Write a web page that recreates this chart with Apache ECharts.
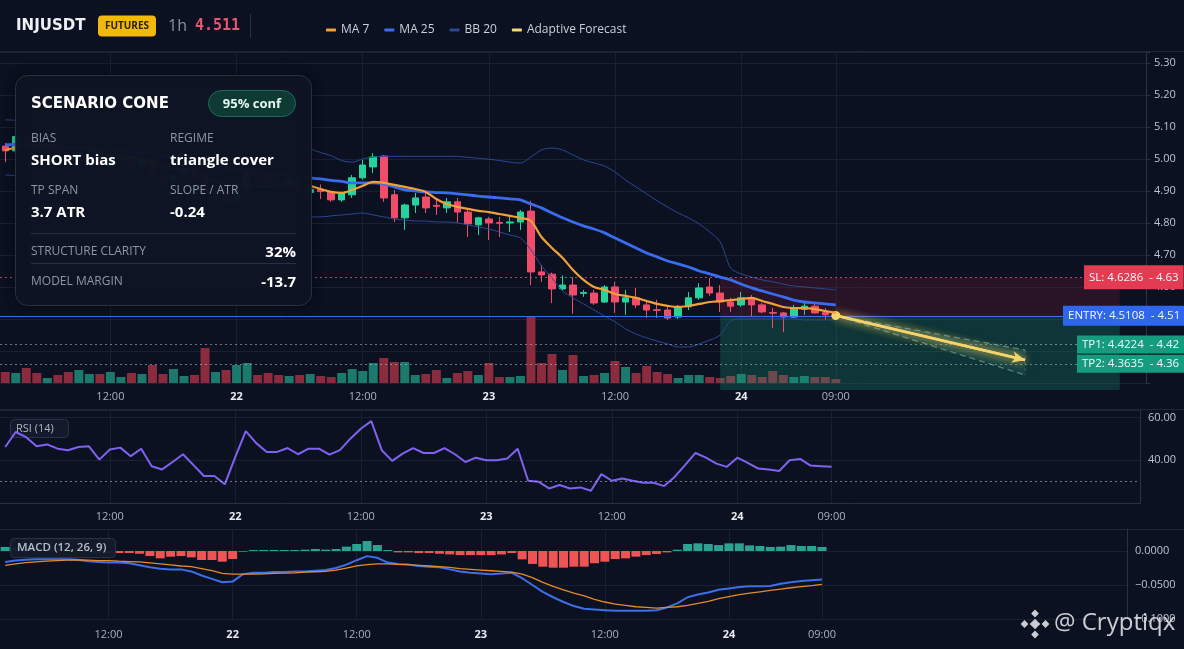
<!DOCTYPE html>
<html>
<head>
<meta charset="utf-8">
<script src="https://cdn.jsdelivr.net/npm/echarts@6/dist/echarts.min.js"></script>
<style>
html,body{margin:0;padding:0;background:#0b1120;overflow:hidden;}
#chart{width:1184px;height:649px;}
</style>
</head>
<body>
<div id="chart"></div>
<script>
// ---------------- axis categories (hourly slots) ----------------
const startDay = 21;
const startHour = 2;
const slotCount = 109;
const categories = [];
for (let k = 0; k < slotCount; k++) {
  const t = startHour + k;
  categories.push((startDay + Math.floor(t / 24)) + ' ' + String(t % 24).padStart(2, '0') + ':00');
}

// ---------------- price candles [open, close, low, high] ----------------
const candles = [
  [5.040,5.025,4.990,5.050],[5.025,5.070,5.020,5.080],[5.070,5.055,5.045,5.085],[5.055,5.030,5.020,5.060],
  [5.030,5.038,5.020,5.050],[5.038,5.020,5.010,5.045],[5.020,5.010,4.995,5.030],[5.010,5.022,5.000,5.030],
  [5.022,5.026,5.010,5.040],[5.026,4.975,4.965,5.030],[4.975,5.000,4.970,5.010],[5.000,5.008,4.990,5.020],
  [5.008,4.980,4.970,5.015],[4.980,5.000,4.975,5.010],[5.000,4.945,4.935,5.005],[4.945,4.930,4.920,4.955],
  [4.930,4.950,4.925,4.960],[4.950,4.970,4.945,4.980],[4.970,4.935,4.925,4.975],[4.935,4.895,4.880,4.940],
  [4.895,4.897,4.880,4.910],[4.897,4.865,4.850,4.905],[4.865,4.905,4.860,4.915],[4.905,4.965,4.900,4.975],
  [4.965,4.945,4.935,4.970],[4.945,4.925,4.915,4.950],[4.925,4.922,4.910,4.935],[4.922,4.935,4.915,4.945],
  [4.935,4.895,4.890,4.940],[4.895,4.905,4.885,4.915],[4.905,4.898,4.875,4.920],[4.897,4.872,4.866,4.900],
  [4.872,4.894,4.866,4.897],[4.888,4.941,4.878,4.950],[4.941,4.981,4.935,4.997],[4.975,5.006,4.956,5.018],
  [5.009,4.878,4.866,5.012],[4.888,4.816,4.803,4.903],[4.816,4.856,4.778,4.860],[4.856,4.878,4.831,4.894],
  [4.881,4.847,4.831,4.900],[4.855,4.852,4.825,4.872],[4.847,4.866,4.831,4.878],[4.866,4.834,4.800,4.878],
  [4.834,4.797,4.756,4.847],[4.794,4.816,4.762,4.819],[4.8125,4.800,4.747,4.819],[4.801,4.799,4.756,4.819],
  [4.800,4.803,4.772,4.819],[4.803,4.834,4.778,4.840],[4.837,4.647,4.606,4.869],[4.647,4.6375,4.616,4.669],
  [4.640,4.594,4.550,4.645],[4.594,4.606,4.590,4.636],[4.606,4.575,4.516,4.631],[4.580,4.583,4.569,4.591],
  [4.581,4.550,4.544,4.591],[4.553,4.600,4.550,4.606],[4.600,4.553,4.519,4.616],[4.553,4.566,4.513,4.591],
  [4.566,4.544,4.534,4.597],[4.544,4.528,4.503,4.560],[4.529,4.527,4.503,4.560],[4.528,4.503,4.497,4.538],
  [4.506,4.538,4.500,4.544],[4.538,4.566,4.528,4.584],[4.566,4.597,4.560,4.612],[4.600,4.581,4.572,4.628],
  [4.581,4.553,4.522,4.606],[4.553,4.540,4.522,4.566],[4.544,4.566,4.538,4.584],[4.566,4.544,4.506,4.575],
  [4.544,4.522,4.518,4.550],[4.520,4.518,4.472,4.534],[4.519,4.506,4.459,4.522],[4.506,4.534,4.503,4.544],
  [4.530,4.540,4.513,4.550],[4.540,4.519,4.516,4.550],[4.520,4.513,4.497,4.534],[4.513,4.511,4.505,4.520]
];
const volumes = [
  132,120,180,120,60,96,132,156,108,108, 132,72,120,108,216,108,168,84,96,420,
  132,156,216,240,96,120,96,84,96,108, 84,72,120,168,144,240,300,252,252,96,
  108,156,60,120,144,96,240,72,72,84, 792,240,348,156,336,84,96,120,264,192,
  120,204,132,108,60,96,96,72,60,84, 108,96,72,144,96,72,84,72,72,48
];
const ma7 = [
  5.028,5.035,5.040,5.040,5.040,5.038,5.035,5.035,5.029,5.017,
  5.013,5.009,5.003,5.002,4.991,4.977,4.969,4.969,4.959,4.946,
  4.932,4.921,4.917,4.919,4.915,4.914,4.917,4.923,4.922,4.916,
  4.906,4.897,4.894,4.903,4.916,4.928,4.925,4.919,4.9125,4.906,
  4.897,4.875,4.859,4.850,4.844,4.8375,4.834,4.828,4.822,4.816,
  4.806,4.756,4.722,4.691,4.653,4.622,4.600,4.591,4.578,4.572,
  4.566,4.556,4.547,4.541,4.5375,4.541,4.547,4.553,4.556,4.559,
  4.5625,4.566,4.556,4.547,4.5375,4.534,4.534,4.531,4.525,4.519
];
const ma25 = [
  5.044,5.045,5.045,5.044,5.043,5.041,5.039,5.037,5.035,5.032,
  5.029,5.026,5.022,5.019,5.014,5.009,5.004,4.999,4.993,4.986,
  4.979,4.972,4.966,4.962,4.958,4.954,4.950,4.947,4.944,4.941,
  4.9375,4.933,4.930,4.925,4.925,4.925,4.922,4.9125,4.903,4.900,
  4.897,4.895,4.894,4.891,4.8875,4.884,4.881,4.878,4.875,4.872,
  4.859,4.847,4.831,4.816,4.803,4.791,4.781,4.769,4.753,4.7375,
  4.722,4.706,4.694,4.681,4.672,4.6625,4.650,4.641,4.631,4.622,
  4.609,4.597,4.5875,4.578,4.569,4.559,4.553,4.550,4.547,4.544
];
const bbUpper = [
  5.122,5.121,5.120,5.118,5.115,5.112,5.108,5.104,5.100,5.098,
  5.096,5.094,5.092,5.090,5.088,5.087,5.085,5.083,5.080,5.078,
  5.076,5.075,5.070,5.065,5.060,5.055,5.050,5.045,5.038,5.031,
  5.020,5.010,4.995,4.990,5.000,5.006,5.008,5.008,5.008,5.008,
  5.008,5.008,5.008,5.008,5.005,5.002,4.999,4.995,4.990,4.987,
  5.006,5.028,5.034,5.028,5.0125,4.997,4.9875,4.978,4.959,4.934,
  4.9125,4.891,4.869,4.850,4.831,4.816,4.797,4.772,4.741,4.659,
  4.641,4.631,4.622,4.616,4.609,4.603,4.600,4.597,4.594,4.591
];
const bbLower = [
  4.950,4.948,4.946,4.944,4.942,4.940,4.937,4.934,4.930,4.925,
  4.920,4.915,4.910,4.905,4.898,4.890,4.882,4.875,4.866,4.856,
  4.846,4.836,4.830,4.828,4.826,4.824,4.823,4.822,4.820,4.819,
  4.819,4.822,4.825,4.828,4.831,4.825,4.819,4.8125,4.809,4.806,
  4.806,4.803,4.803,4.800,4.794,4.7875,4.781,4.772,4.7625,4.753,
  4.716,4.666,4.628,4.5875,4.566,4.547,4.528,4.509,4.491,4.469,
  4.453,4.441,4.431,4.422,4.4125,4.4125,4.422,4.434,4.450,4.494,
  4.500,4.500,4.500,4.500,4.500,4.500,4.497,4.497,4.497,4.497
];

// ---------------- RSI / MACD ----------------
const rsi = [
  46.2,53.2,50.8,46.5,47.4,45.4,44.7,46.2,46.5,40.3,
  45.0,45.9,41.9,45.4,37.2,35.7,39.2,42.8,37.7,32.6,
  32.6,28.8,41.6,53.6,48.0,43.9,43.9,45.7,42.8,45.4,
  45.4,42.6,44.7,50.1,54.7,58.3,44.7,39.7,43.1,45.7,
  43.4,43.4,45.7,42.8,39.2,41.2,40.0,40.0,40.8,45.4,
  30.4,29.9,26.8,28.4,26.8,27.3,25.7,33.5,30.4,31.5,
  30.4,29.5,29.5,27.9,32.2,37.7,43.4,41.2,38.4,36.9,
  41.2,38.8,36.1,35.7,35.0,40.0,40.6,37.5,37.2,36.9
];
const macdLine = [
  -0.016,-0.014,-0.013,-0.012,-0.012,-0.012,-0.012,-0.013,-0.015,-0.016,
  -0.017,-0.017,-0.018,-0.021,-0.024,-0.026,-0.027,-0.027,-0.030,-0.036,
  -0.041,-0.046,-0.045,-0.034,-0.032,-0.032,-0.031,-0.031,-0.030,-0.030,
  -0.029,-0.028,-0.025,-0.020,-0.0135,-0.0075,-0.010,-0.017,-0.019,-0.020,
  -0.022,-0.023,-0.024,-0.027,-0.030,-0.032,-0.033,-0.034,-0.033,-0.032,
  -0.040,-0.050,-0.060,-0.068,-0.075,-0.081,-0.085,-0.086,-0.087,-0.088,
  -0.088,-0.088,-0.088,-0.087,-0.083,-0.077,-0.068,-0.064,-0.061,-0.057,
  -0.055,-0.053,-0.052,-0.052,-0.0515,-0.048,-0.046,-0.044,-0.043,-0.042
];
const signalLine = [
  -0.021,-0.019,-0.017,-0.016,-0.015,-0.014,-0.0135,-0.013,-0.0135,-0.014,
  -0.0142,-0.015,-0.0155,-0.016,-0.0175,-0.019,-0.0205,-0.022,-0.023,-0.026,
  -0.029,-0.033,-0.034,-0.034,-0.034,-0.0335,-0.033,-0.0326,-0.032,-0.031,
  -0.0305,-0.030,-0.028,-0.025,-0.022,-0.020,-0.019,-0.019,-0.0196,-0.020,
  -0.021,-0.022,-0.023,-0.024,-0.026,-0.027,-0.028,-0.029,-0.030,-0.031,
  -0.034,-0.039,-0.046,-0.052,-0.057,-0.062,-0.066,-0.071,-0.075,-0.078,
  -0.080,-0.082,-0.083,-0.084,-0.083,-0.082,-0.080,-0.077,-0.074,-0.070,
  -0.067,-0.064,-0.062,-0.060,-0.058,-0.056,-0.054,-0.0525,-0.051,-0.049
];
const macdHist = [
  0.006,0.005,0.004,0.004,0.003,0.002,0.0015,0.0005,-0.0015,-0.002,
  -0.003,-0.003,-0.003,-0.004,-0.0074,-0.0108,-0.0083,-0.0074,-0.0093,-0.0132,
  -0.0132,-0.0157,-0.0118,-0.001,0.0015,0.0015,0.0015,0.0015,0.0015,0.002,
  0.003,0.002,0.003,0.0064,0.0103,0.0147,0.0088,0.0015,-0.002,-0.002,
  -0.003,-0.003,-0.004,-0.005,-0.006,-0.006,-0.006,-0.006,-0.005,-0.003,
  -0.0123,-0.019,-0.023,-0.0245,-0.0245,-0.023,-0.023,-0.018,-0.0157,-0.0118,
  -0.0108,-0.0083,-0.006,-0.0044,-0.002,0.002,0.0103,0.0113,0.0103,0.0088,
  0.0113,0.0113,0.0083,0.0074,0.0059,0.0064,0.0088,0.0074,0.0074,0.0059
];

// ---------------- trade plan / forecast ----------------
const levelNames = ['SL', 'ENTRY', 'TP1', 'TP2'];
const levelValues = [4.6286, 4.5108, 4.4224, 4.3635];
const forecastTimes = ['24 09:00', '25 03:00'];
const forecastValues = [4.5108, 4.372];
const coneUpper = [4.5108, 4.403];
const coneLower = [4.5108, 4.325];
const zoneTimes = ['23 22:00', '25 12:00'];
const slZone = [4.6286, 4.5108];
const tpZone = [4.5108, 4.278];

// ---------------- panel texts ----------------
const panelTitle = 'SCENARIO CONE';
const panelBadge = '95% conf';
const panelGrid = [['BIAS', 'SHORT bias'], ['REGIME', 'triangle cover'], ['TP SPAN', '3.7 ATR'], ['SLOPE / ATR', '-0.24']];
const panelRows = [['STRUCTURE CLARITY', '32%'], ['MODEL MARGIN', '-13.7']];

// ---------------- helpers ----------------
const lastIdx = candles.length - 1;
const catIdx = c => categories.indexOf(c);
function showTick(idx) {
  if (idx > lastIdx) return false;
  const hh = categories[idx].split(' ')[1];
  return hh === '00:00' || hh === '12:00' || idx === lastIdx;
}
function fmtTick(val) {
  const parts = val.split(' ');
  return parts[1] === '00:00' ? '{b|' + parts[0] + '}' : parts[1];
}
function isStep(v, s) { const r = v / s; return Math.abs(r - Math.round(r)) < 1e-6; }

const UP = '#26d39d', DOWN = '#ef4d6a';
const VUP = '#1c7a6c', VDOWN = '#8a2c3d';
const FONT = '"Open Sans", "Noto Sans", sans-serif';

function makeX(gi, lineShow, margin) {
  return {
    type: 'category', gridIndex: gi, data: categories, boundaryGap: true,
    axisLine: { show: lineShow, lineStyle: { color: '#283244' } },
    axisTick: { show: false },
    axisLabel: {
      interval: showTick, formatter: fmtTick, color: '#a9b2bf', fontSize: 11, fontFamily: FONT, margin: margin,
      rich: { b: { fontWeight: 'bold', color: '#e8ecf2', fontSize: 11, fontFamily: FONT } }
    },
    splitLine: { show: true, interval: showTick, alignWithLabel: true, lineStyle: { color: '#18212f' } }
  };
}

const levelLabelStyle = [
  { bg: '#e53b52', dist: -62, pad: [5, 5], line: { color: 'rgba(239,80,107,0.8)', type: [2, 3], width: 1 } },
  { bg: '#2e66ee', dist: -83, pad: [3, 5], line: { color: '#3c6cf2', type: 'solid', width: 1 } },
  { bg: '#159c7e', dist: -69, pad: [2, 5], line: { color: 'rgba(190,200,215,0.55)', type: [2, 3], width: 1 } },
  { bg: '#159c7e', dist: -69, pad: [2, 5], line: { color: 'rgba(190,200,215,0.55)', type: [2, 3], width: 1 } }
];
const levelMarks = levelNames.map((n, k) => ({
  yAxis: levelValues[k],
  lineStyle: levelLabelStyle[k].line,
  label: {
    show: true, position: 'end', distance: [levelLabelStyle[k].dist, 0],
    formatter: n + ': ' + levelValues[k].toFixed(4) + '  - ' + levelValues[k].toFixed(2),
    backgroundColor: levelLabelStyle[k].bg, color: '#f4f7fb', fontSize: 11.5, fontFamily: FONT,
    lineHeight: 14, padding: levelLabelStyle[k].pad
  }
}));

const zoneFills = ['rgba(125,30,58,0.26)', 'rgba(22,160,122,0.26)'];
const zoneData = [
  [catIdx(zoneTimes[0]), slZone[0], catIdx(zoneTimes[1]), slZone[1]],
  [catIdx(zoneTimes[0]), tpZone[0], catIdx(zoneTimes[1]), tpZone[1]]
];

const fIdx = forecastTimes.map(catIdx);

// ---------------- graphics (header, panel, labels) ----------------
const T = (x, y, text, font, fill, align, z) => ({
  type: 'text', x: x, y: y, z: z || 100, silent: true,
  style: { text: text, font: font, fill: fill, align: align || 'left', verticalAlign: 'middle', textAlign: align || 'left', textVerticalAlign: 'middle' }
});
const HL = (x1, y1, x2, y2, c, z) => ({ type: 'line', silent: true, z: z || 1, shape: { x1, y1, x2, y2 }, style: { stroke: c, lineWidth: 1 } });
const D = (cx, cy, s) => ({ type: 'rect', z: 120, silent: true, x: cx, y: cy, rotation: Math.PI / 4,
  shape: { x: -s / 2, y: -s / 2, width: s, height: s }, style: { fill: 'rgba(236,237,241,0.85)' } });

const graphics = [
  HL(0, 51.5, 1184, 51.5, '#1e2737'),
  HL(0, 409.5, 1184, 409.5, '#1e2737'),
  HL(0, 529.5, 1184, 529.5, '#1e2737'),
  HL(250.5, 14, 250.5, 38, '#2a3344'),
  T(16, 26, 'INJUSDT', 'bold 15px "DejaVu Sans", sans-serif', '#eef1f6'),
  { type: 'rect', z: 100, silent: true, shape: { x: 98, y: 15.5, width: 58, height: 21, r: 4 }, style: { fill: '#f0b90b' } },
  T(127, 26.5, 'FUTURES', 'bold 10px ' + FONT, '#2a2205', 'center'),
  T(168, 26, '1h', '16px ' + FONT, '#8a93a3'),
  T(195, 26, candles[lastIdx][1].toFixed(3), 'bold 15px "DejaVu Sans Mono", monospace', '#ea5571'),
  // panel
  { type: 'rect', z: 100, silent: true, shape: { x: 15.5, y: 75.5, width: 296, height: 230, r: 12 },
    style: { fill: 'rgba(14,21,36,0.97)', stroke: '#28323f', lineWidth: 1, shadowBlur: 12, shadowColor: 'rgba(0,0,0,0.4)' } },
  T(31, 104, panelTitle, 'bold 15px "DejaVu Sans", sans-serif', '#ffffff'),
  { type: 'rect', z: 100, silent: true, shape: { x: 208.5, y: 90.5, width: 87, height: 26, r: 13 }, style: { fill: '#0e3a34', stroke: '#23675a', lineWidth: 1 } },
  T(252, 104, panelBadge, 'bold 13px ' + FONT, '#e6f6f0', 'center'),
  T(31, 139, panelGrid[0][0], '12px ' + FONT, '#8c96a7'),
  T(31, 161, panelGrid[0][1], 'bold 15px ' + FONT, '#ffffff'),
  T(170, 139, panelGrid[1][0], '12px ' + FONT, '#8c96a7'),
  T(170, 161, panelGrid[1][1], 'bold 15px ' + FONT, '#ffffff'),
  T(31, 191, panelGrid[2][0], '12px ' + FONT, '#8c96a7'),
  T(31, 213, panelGrid[2][1], 'bold 15px ' + FONT, '#ffffff'),
  T(170, 191, panelGrid[3][0], '12px ' + FONT, '#8c96a7'),
  T(170, 213, panelGrid[3][1], 'bold 15px ' + FONT, '#ffffff'),
  HL(31, 233.5, 296, 233.5, '#263041', 101),
  T(31, 252, panelRows[0][0], '12px ' + FONT, '#8c96a7'),
  T(296, 253, panelRows[0][1], 'bold 15px ' + FONT, '#ffffff', 'right'),
  HL(31, 263.5, 296, 263.5, '#263041', 101),
  T(31, 282, panelRows[1][0], '12px ' + FONT, '#8c96a7'),
  T(296, 283, panelRows[1][1], 'bold 15px ' + FONT, '#ffffff', 'right'),
  // indicator captions
  { type: 'rect', z: 0, silent: true, shape: { x: 10.5, y: 419.5, width: 58, height: 18, r: 4 }, style: { fill: 'rgba(20,28,44,0.9)', stroke: '#2a3446', lineWidth: 1 } },
  T(16, 428.5, 'RSI (14)', '11px ' + FONT, '#aeb6c2', 'left', 1),
  { type: 'rect', z: 50, silent: true, shape: { x: 10.5, y: 538.5, width: 105, height: 19, r: 4 }, style: { fill: 'rgba(20,28,44,0.95)', stroke: '#2a3446', lineWidth: 1 } },
  T(17, 548, 'MACD (12, 26, 9)', '600 11.5px ' + FONT, '#b6bec9', 'left', 51),
  // watermark
  D(1035, 624, 7.5), D(1035, 613.5, 5.5), D(1035, 634.5, 5.5), D(1024.5, 624, 5.5), D(1045.5, 624, 5.5),
  T(1054, 623, '@ Cryptiqx', '24px ' + FONT, 'rgba(236,237,241,0.85)', 'left', 120)
];

// ---------------- chart ----------------
const chart = echarts.init(document.getElementById('chart'), null, { renderer: 'canvas' });
chart.setOption({
  backgroundColor: '#0b1120',
  animation: false,
  textStyle: { fontFamily: FONT },
  legend: {
    data: ['MA 7', 'MA 25', 'BB 20', 'Adaptive Forecast'],
    left: 321, top: 19, icon: 'roundRect', itemWidth: 10, itemHeight: 3, itemGap: 15,
    selectedMode: false, textStyle: { color: '#c8d0da', fontSize: 12, fontWeight: 500, fontFamily: FONT }
  },
  grid: [
    { left: 0, right: 38, top: 52, bottom: 266 },
    { left: 0, right: 44, top: 410, bottom: 146 },
    { left: 0, right: 57, top: 529, bottom: 30 }
  ],
  xAxis: [makeX(0, false, 8), makeX(1, true, 8), makeX(2, false, 10)],
  yAxis: [
    { type: 'value', gridIndex: 0, position: 'right', min: 4.3, max: 5.334, interval: 0.1,
      axisLine: { show: true, lineStyle: { color: '#2a3445' } },
      axisTick: { show: true, length: 4, lineStyle: { color: '#2a3445' } },
      axisLabel: { color: '#bcc3ce', fontSize: 11, margin: 8, fontFamily: FONT,
        formatter: v => (v >= 4.55 && isStep(v, 0.1)) ? v.toFixed(2) : '' },
      splitLine: { lineStyle: { color: '#18212f' } } },
    { type: 'value', gridIndex: 0, show: false, min: 0, max: 3972, splitLine: { show: false } },
    { type: 'value', gridIndex: 1, position: 'right', min: 20, max: 63.5, interval: 20,
      axisLine: { show: true, lineStyle: { color: '#283244' } },
      axisTick: { show: false },
      axisLabel: { color: '#bcc3ce', fontSize: 11, margin: 8, fontFamily: FONT,
        formatter: v => (Math.abs(v - 40) < 1e-6 || Math.abs(v - 60) < 1e-6) ? v.toFixed(2) : '' },
      splitLine: { lineStyle: { color: '#18212f' } } },
    { type: 'value', gridIndex: 2, position: 'right', min: -0.1, max: 0.0324, interval: 0.05,
      axisLine: { show: true, lineStyle: { color: '#283244' } },
      axisTick: { show: false },
      axisLabel: { color: '#bcc3ce', fontSize: 11, margin: 8, fontFamily: FONT,
        formatter: v => {
          if (!isStep(v, 0.05) || v > 0.001) return '';
          if (Math.abs(v) < 1e-9) return '0.0000';
          return '\u2212' + Math.abs(v).toFixed(4);
        } },
      splitLine: { lineStyle: { color: '#18212f' } } }
  ],
  graphic: graphics,
  series: [
    { type: 'bar', name: 'Volume', xAxisIndex: 0, yAxisIndex: 1, barWidth: 9, z: 1, silent: true,
      data: volumes.map((v, i) => ({ value: v, itemStyle: { color: candles[i][1] >= candles[i][0] ? VUP : VDOWN } })) },
    { type: 'custom', name: 'Zones', xAxisIndex: 0, yAxisIndex: 0, z: 2, silent: true, clip: false,
      data: zoneData,
      renderItem: (params, api) => {
        const p0 = api.coord([api.value(0), api.value(1)]);
        const p1 = api.coord([api.value(2), api.value(3)]);
        return { type: 'rect', shape: { x: p0[0], y: p0[1], width: p1[0] - p0[0], height: p1[1] - p0[1] },
          style: { fill: zoneFills[params.dataIndex] } };
      } },
    { type: 'candlestick', name: 'INJUSDT', xAxisIndex: 0, yAxisIndex: 0, data: candles, barWidth: 7, z: 3,
      itemStyle: { color: UP, color0: DOWN, borderColor: UP, borderColor0: DOWN, borderWidth: 1 },
      markLine: { silent: true, symbol: 'none', animation: false, data: levelMarks } },
    { type: 'line', name: 'BB 20', xAxisIndex: 0, yAxisIndex: 0, data: bbUpper, symbol: 'none', smooth: 0.3, z: 4,
      itemStyle: { color: '#2b4796' }, lineStyle: { color: '#2b4796', width: 1 } },
    { type: 'line', name: 'BB 20', xAxisIndex: 0, yAxisIndex: 0, data: bbLower, symbol: 'none', smooth: 0.3, z: 4,
      itemStyle: { color: '#2b4796' }, lineStyle: { color: '#2b4796', width: 1 } },
    { type: 'line', name: 'MA 25', xAxisIndex: 0, yAxisIndex: 0, data: ma25, symbol: 'none', smooth: 0.3, z: 5,
      itemStyle: { color: '#3a6cf0' }, lineStyle: { color: '#3a6cf0', width: 2.8 } },
    { type: 'line', name: 'MA 7', xAxisIndex: 0, yAxisIndex: 0, data: ma7, symbol: 'none', smooth: 0.3, z: 5,
      itemStyle: { color: '#f2a03a' }, lineStyle: { color: '#f2a03a', width: 2.2 } },
    { type: 'custom', name: 'Cone', xAxisIndex: 0, yAxisIndex: 0, z: 6, silent: true, clip: false,
      data: [[fIdx[0], coneUpper[0]]],
      renderItem: (params, api) => {
        const a = api.coord([fIdx[0], coneUpper[0]]);
        const u = api.coord([fIdx[1], coneUpper[1]]);
        const l = api.coord([fIdx[1], coneLower[1]]);
        const dash = { stroke: 'rgba(125,180,180,0.6)', lineWidth: 1.3, lineDash: [6, 4], fill: null };
        return { type: 'group', children: [
          { type: 'polygon', shape: { points: [a, u, l] }, style: { fill: 'rgba(90,175,165,0.10)' } },
          { type: 'polyline', shape: { points: [a, u] }, style: dash },
          { type: 'polyline', shape: { points: [a, l] }, style: dash },
          { type: 'polyline', shape: { points: [u, l] }, style: { stroke: 'rgba(125,180,180,0.35)', lineWidth: 1, lineDash: [3, 3], fill: null } }
        ] };
      } },
    { type: 'line', name: 'Adaptive Forecast', xAxisIndex: 0, yAxisIndex: 0, z: 7, symbol: 'none',
      data: forecastTimes.map((t, k) => [t, forecastValues[k]]),
      itemStyle: { color: '#f6d878' },
      lineStyle: { color: '#f6d46a', width: 2.5, shadowBlur: 10, shadowColor: 'rgba(255,212,90,0.8)' },
      markLine: { silent: true, animation: false, symbol: ['circle', 'arrow'], symbolSize: [9, 13],
        label: { show: false },
        lineStyle: { color: '#f6d46a', width: 2.5, type: 'solid', shadowBlur: 10, shadowColor: 'rgba(255,212,90,0.8)' },
        data: [[{ coord: [fIdx[0], forecastValues[0]], itemStyle: { color: '#fff0b0' } }, { coord: [fIdx[1], forecastValues[1]] }]] } },
    { type: 'line', name: 'RSI', xAxisIndex: 1, yAxisIndex: 2, data: rsi, symbol: 'none', z: 3,
      lineStyle: { color: '#8062f0', width: 2 }, itemStyle: { color: '#8062f0' },
      markLine: { silent: true, symbol: 'none', animation: false, label: { show: false },
        lineStyle: { color: 'rgba(175,185,200,0.6)', type: [2, 3], width: 1 }, data: [{ yAxis: 30 }] } },
    { type: 'bar', name: 'MACD Hist', xAxisIndex: 2, yAxisIndex: 3, barWidth: 9, z: 2, silent: true,
      data: macdHist.map(v => ({ value: v, itemStyle: { color: v >= 0 ? '#2ba392' : '#ef5454' } })) },
    { type: 'line', name: 'MACD', xAxisIndex: 2, yAxisIndex: 3, data: macdLine, symbol: 'none', z: 3,
      lineStyle: { color: '#3d6fe8', width: 2 }, itemStyle: { color: '#3d6fe8' } },
    { type: 'line', name: 'Signal', xAxisIndex: 2, yAxisIndex: 3, data: signalLine, symbol: 'none', z: 3,
      lineStyle: { color: '#e58a2c', width: 1.3 }, itemStyle: { color: '#e58a2c' } }
  ]
});
</script>
</body>
</html>
